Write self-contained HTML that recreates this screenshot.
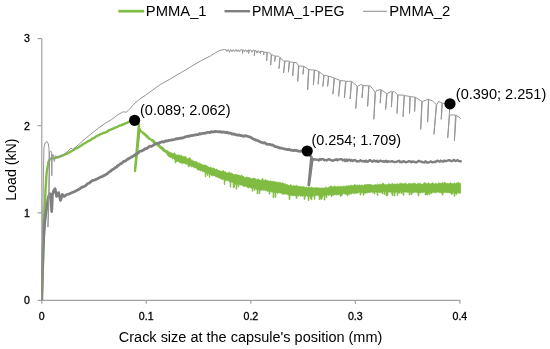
<!DOCTYPE html>
<html><head><meta charset="utf-8"><title>Load vs crack size</title>
<style>html,body{margin:0;padding:0;background:#fff;width:550px;height:349px;overflow:hidden}svg{display:block}</style>
</head><body>
<svg width="550" height="349" viewBox="0 0 550 349">
<rect width="550" height="349" fill="#fff"/>
<g fill="none" stroke="#a2a2a2" stroke-width="1.2">
<path d="M41.8 38.4V300.3H460.3"/>
<path d="M37.6 38.6H41.8M37.6 125.7H41.8M37.6 212.9H41.8"/>
<path d="M37.6 300.3H41.8V303.8"/>
<path d="M146.3 300.3V303.8M250.8 300.3V303.8M355.4 300.3V303.8M459.9 300.3V303.8"/>
</g>
<g font-family="'Liberation Sans', Arial, sans-serif" font-size="10.6" fill="#000" stroke="#000" stroke-width="0.3">
<text x="30" y="42.2" text-anchor="end">3</text>
<text x="30" y="129.6" text-anchor="end">2</text>
<text x="30" y="216.8" text-anchor="end">1</text>
<text x="30" y="304" text-anchor="end">0</text>
<text x="41.7" y="320" text-anchor="middle">0</text>
<text x="146.2" y="320" text-anchor="middle">0.1</text>
<text x="250.9" y="320" text-anchor="middle">0.2</text>
<text x="355.3" y="320" text-anchor="middle">0.3</text>
<text x="459.9" y="320" text-anchor="middle">0.4</text>
</g>
<defs><clipPath id="pa"><rect x="41.3" y="30" width="425" height="270.4"/></clipPath></defs>
<g clip-path="url(#pa)">
<polyline points="41.8,300.3 42.8,270.0 43.6,245.0 44.0,230.0 44.3,215.0 45.5,190.0 46.6,173.0 48.3,162.6 50.1,158.6 53.0,158.4 55.2,158.0 60.0,156.5 61.4,156.0 62.8,155.5 64.2,154.9 65.6,154.2 67.0,153.7 68.4,152.8 69.8,152.1 71.2,151.3 72.6,150.5 74.0,149.9 75.4,148.7 76.8,148.1 78.2,147.5 79.6,146.6 81.0,145.7 82.4,144.6 83.8,143.8 85.2,143.0 86.6,142.3 88.0,141.3 89.4,140.6 90.8,140.0 92.2,138.6 93.6,138.1 95.0,137.4 96.4,136.3 97.8,135.5 99.2,135.1 100.6,133.9 102.0,133.7 103.4,132.9 104.8,132.7 106.2,132.2 107.6,131.2 109.0,130.2 110.4,129.8 111.8,129.1 113.2,128.6 114.6,127.8 116.0,127.3 117.4,126.8 118.8,126.0 120.2,125.4 121.6,125.2 123.0,124.2 124.4,124.0 125.8,123.1 127.2,122.8 128.3,122.1 134.6,120.2 139.0,124.0 135.0,171.0 139.5,129.0 140.5,131.0" fill="none" stroke="#7fbc41" stroke-width="2.4" stroke-linejoin="round" stroke-linecap="round"/>
<polygon points="140.5,129.7 141.5,130.9 142.5,131.6 143.5,131.9 144.5,132.7 145.5,133.6 146.5,134.7 147.5,135.2 148.5,136.5 149.5,137.2 150.5,138.4 151.5,139.1 152.5,139.1 153.5,140.1 154.5,140.7 155.5,142.0 156.5,142.6 157.5,142.8 158.5,144.2 159.5,144.5 160.5,145.5 161.5,146.7 162.5,146.9 163.5,148.1 164.5,149.0 165.5,149.9 166.5,150.4 167.5,150.4 168.5,151.6 169.5,152.2 170.5,152.3 171.5,152.9 172.5,153.6 173.5,153.7 174.5,152.8 175.5,154.2 176.5,155.1 177.5,155.0 178.5,155.1 179.5,154.9 180.5,156.0 181.5,155.1 182.5,157.1 183.5,156.5 184.5,156.8 185.5,156.2 186.5,158.4 187.5,158.5 188.5,158.9 189.5,157.6 190.5,158.6 191.5,160.5 192.5,160.2 193.5,161.0 194.5,161.5 195.5,161.7 196.5,161.4 197.5,162.5 198.5,163.2 199.5,162.9 200.5,164.0 201.5,164.3 202.5,164.7 203.5,165.1 204.5,165.1 205.5,165.2 206.5,165.6 207.5,166.2 208.5,166.9 209.5,167.5 210.5,167.3 211.5,167.6 212.5,168.4 213.5,167.8 214.5,168.8 215.5,169.5 216.5,168.9 217.5,169.9 218.5,170.5 219.5,170.8 220.5,170.9 221.5,171.4 222.5,170.9 223.5,170.5 224.5,172.2 225.5,171.8 226.5,172.9 227.5,173.0 228.5,172.8 229.5,171.9 230.5,173.6 231.5,172.9 232.5,173.7 233.5,174.5 234.5,174.7 235.5,174.3 236.5,174.5 237.5,175.0 238.5,175.1 239.5,175.3 240.5,176.2 241.5,174.8 242.5,176.5 243.5,176.3 244.5,177.3 245.5,177.7 246.5,177.0 247.5,177.3 248.5,177.5 249.5,177.9 250.5,178.0 251.5,178.9 252.5,178.4 253.5,178.0 254.5,178.5 255.5,178.8 256.5,179.4 257.5,179.2 258.5,179.1 259.5,179.9 260.5,180.2 261.5,180.4 262.5,178.3 263.5,180.4 264.5,180.4 265.5,179.4 266.5,180.5 267.5,180.6 268.5,180.9 269.5,181.3 270.5,181.0 271.5,181.3 272.5,181.4 273.5,181.4 274.5,181.4 275.5,182.0 276.5,182.3 277.5,182.0 278.5,182.7 279.5,182.2 280.5,182.6 281.5,183.3 282.5,182.8 283.5,183.3 284.5,183.9 285.5,183.7 286.5,184.9 287.5,184.5 288.5,185.4 289.5,185.5 290.5,184.5 291.5,185.4 292.5,186.1 293.5,185.8 294.5,185.7 295.5,185.9 296.5,185.2 297.5,186.2 298.5,186.4 299.5,186.5 300.5,186.4 301.5,186.6 302.5,186.9 303.5,186.5 304.5,187.1 305.5,187.5 306.5,186.9 307.5,187.8 308.5,187.4 309.5,187.2 310.5,187.7 311.5,186.9 312.5,187.7 313.5,187.8 314.5,188.1 315.5,187.8 316.5,187.6 317.5,188.0 318.5,187.8 319.5,188.1 320.5,188.2 321.5,187.9 322.5,188.2 323.5,188.1 324.5,188.1 325.5,187.2 326.5,187.4 327.5,188.0 328.5,187.3 329.5,186.9 330.5,186.1 331.5,186.1 332.5,186.9 333.5,186.8 334.5,185.9 335.5,186.6 336.5,186.8 337.5,186.5 338.5,186.3 339.5,186.8 340.5,186.4 341.5,186.2 342.5,186.9 343.5,185.9 344.5,186.2 345.5,186.4 346.5,185.8 347.5,186.0 348.5,185.7 349.5,185.9 350.5,185.2 351.5,185.4 352.5,185.4 353.5,186.1 354.5,184.3 355.5,185.0 356.5,185.3 357.5,185.0 358.5,185.2 359.5,184.9 360.5,185.4 361.5,185.0 362.5,185.2 363.5,185.6 364.5,184.6 365.5,184.9 366.5,184.5 367.5,184.5 368.5,184.6 369.5,184.5 370.5,184.5 371.5,184.8 372.5,185.2 373.5,185.0 374.5,185.0 375.5,184.5 376.5,185.0 377.5,184.1 378.5,184.7 379.5,184.4 380.5,184.0 381.5,184.7 382.5,183.5 383.5,183.2 384.5,184.7 385.5,184.8 386.5,184.6 387.5,184.8 388.5,183.9 389.5,183.7 390.5,184.7 391.5,184.0 392.5,183.3 393.5,184.3 394.5,184.2 395.5,184.0 396.5,184.2 397.5,183.7 398.5,184.2 399.5,183.8 400.5,183.2 401.5,183.3 402.5,183.7 403.5,184.1 404.5,183.6 405.5,183.1 406.5,184.0 407.5,184.4 408.5,183.5 409.5,183.5 410.5,183.5 411.5,184.0 412.5,183.4 413.5,183.4 414.5,183.4 415.5,183.4 416.5,184.2 417.5,183.8 418.5,183.2 419.5,183.5 420.5,183.6 421.5,184.2 422.5,184.3 423.5,184.1 424.5,182.2 425.5,183.4 426.5,183.4 427.5,183.9 428.5,182.7 429.5,183.6 430.5,184.0 431.5,183.8 432.5,182.6 433.5,183.4 434.5,184.1 435.5,183.2 436.5,183.5 437.5,184.0 438.5,183.1 439.5,183.1 440.5,183.2 441.5,183.3 442.5,182.4 443.5,183.7 444.5,182.0 445.5,183.0 446.5,183.5 447.5,183.4 448.5,183.6 449.5,183.8 450.5,182.4 451.5,183.8 452.5,183.7 453.5,183.4 454.5,183.0 455.5,183.8 456.5,183.0 457.5,182.9 458.5,182.2 459.5,183.2 460.5,183.4 460.5,193.2 459.5,193.2 458.5,193.0 457.5,192.7 456.9,193.0 456.9,194.6 456.1,194.6 456.1,193.0 455.5,193.2 454.9,193.1 454.9,196.2 454.1,196.2 454.1,193.1 453.5,192.3 452.9,192.3 452.9,194.0 452.1,194.0 452.1,192.3 451.9,192.4 451.9,194.2 451.1,194.2 451.1,192.4 450.5,193.1 449.5,192.9 448.5,192.5 447.5,192.7 446.5,192.5 445.5,192.3 444.5,192.5 443.5,193.0 442.9,192.6 442.9,195.1 442.1,195.1 442.1,192.6 441.5,193.2 440.5,192.6 439.5,192.6 438.5,192.2 437.5,192.0 436.5,192.8 435.5,192.4 434.5,192.5 433.5,192.8 432.5,192.2 431.9,192.2 431.9,193.6 431.1,193.6 431.1,192.2 430.5,192.9 429.9,193.0 429.9,194.6 429.1,194.6 429.1,193.0 428.5,192.9 427.9,192.7 427.9,195.1 427.1,195.1 427.1,192.7 426.9,191.8 426.9,194.4 426.1,194.4 426.1,191.8 425.9,191.8 425.9,194.9 425.1,194.9 425.1,191.8 424.5,192.0 423.5,192.3 422.5,192.4 421.5,192.6 420.5,192.9 419.5,192.7 418.9,193.0 418.9,195.9 418.1,195.9 418.1,193.0 417.5,192.7 416.5,192.6 415.5,192.1 414.5,192.3 413.5,192.8 412.5,192.8 411.9,192.7 411.9,194.6 411.1,194.6 411.1,192.7 410.5,191.9 409.9,192.7 409.9,195.0 409.1,195.0 409.1,192.7 408.5,192.3 407.5,192.6 406.5,192.1 405.5,192.2 404.5,191.8 403.9,192.2 403.9,195.3 403.1,195.3 403.1,192.2 402.5,192.4 401.9,191.6 401.9,193.5 401.1,193.5 401.1,191.6 400.5,192.3 399.9,191.6 399.9,193.1 399.1,193.1 399.1,191.6 398.5,192.9 397.9,192.6 397.9,195.4 397.1,195.4 397.1,192.6 396.5,192.1 395.5,192.7 394.9,192.8 394.9,196.0 394.1,196.0 394.1,192.8 393.5,192.1 392.9,192.8 392.9,195.6 392.1,195.6 392.1,192.8 391.9,191.7 391.9,193.2 391.1,193.2 391.1,191.7 390.5,191.9 389.5,192.0 388.5,192.1 387.9,192.9 387.9,195.6 387.1,195.6 387.1,192.9 386.9,192.7 386.9,195.9 386.1,195.9 386.1,192.7 385.5,191.8 384.9,192.3 384.9,194.6 384.1,194.6 384.1,192.3 383.5,191.7 382.9,191.8 382.9,193.9 382.1,193.9 382.1,191.8 381.5,192.7 380.5,192.5 379.5,192.6 378.5,192.1 377.9,192.9 377.9,195.3 377.1,195.3 377.1,192.9 376.5,191.9 375.5,192.0 374.9,192.1 374.9,194.1 374.1,194.1 374.1,192.1 373.5,192.2 372.5,192.7 371.5,192.0 370.5,192.2 369.5,192.7 368.5,192.4 367.5,192.9 366.5,192.8 365.5,193.3 364.5,193.3 363.9,192.7 363.9,195.3 363.1,195.3 363.1,192.7 362.5,192.7 361.5,192.7 360.9,192.5 360.9,195.1 360.1,195.1 360.1,192.5 359.5,192.6 358.5,192.8 357.5,193.0 356.5,193.4 355.5,193.0 354.5,193.8 353.5,193.3 352.5,193.1 351.5,194.0 350.5,193.8 349.5,194.3 348.5,194.3 347.9,194.1 347.9,195.8 347.1,195.8 347.1,194.1 346.5,194.3 345.5,194.3 344.5,193.7 343.5,193.6 342.5,194.6 341.9,193.6 341.9,195.9 341.1,195.9 341.1,193.6 340.9,194.6 340.9,196.2 340.1,196.2 340.1,194.6 339.5,194.5 338.5,194.8 337.5,194.4 336.5,195.1 335.5,194.8 334.5,194.5 333.5,195.4 332.5,195.2 331.9,195.3 331.9,196.6 331.1,196.6 331.1,195.3 330.5,194.8 329.5,195.1 328.5,195.6 327.5,194.8 326.9,194.9 326.9,197.7 326.1,197.7 326.1,194.9 325.5,195.6 324.9,195.3 324.9,200.1 324.1,200.1 324.1,195.3 323.5,196.0 322.9,195.1 322.9,197.3 322.1,197.3 322.1,195.1 321.9,196.2 321.9,199.4 321.1,199.4 321.1,196.2 320.9,195.7 320.9,198.4 320.1,198.4 320.1,195.7 319.9,195.4 319.9,199.7 319.1,199.7 319.1,195.4 318.5,195.4 317.5,195.5 316.5,195.3 315.5,195.7 314.9,195.8 314.9,199.3 314.1,199.3 314.1,195.8 313.5,195.7 312.5,196.7 311.9,195.9 311.9,199.7 311.1,199.7 311.1,195.9 310.9,196.3 310.9,198.5 310.1,198.5 310.1,196.3 309.5,196.3 308.9,196.2 308.9,200.5 308.1,200.5 308.1,196.2 307.5,196.4 306.5,195.7 305.5,196.6 304.9,196.2 304.9,199.4 304.1,199.4 304.1,196.2 303.5,195.5 302.5,196.7 301.5,195.8 300.5,196.2 299.5,195.5 298.5,195.9 297.5,196.0 296.9,195.4 296.9,198.4 296.1,198.4 296.1,195.4 295.5,196.2 294.5,195.2 293.5,195.6 292.5,196.0 291.5,195.3 290.5,195.4 289.9,195.4 289.9,199.6 289.1,199.6 289.1,195.4 288.5,195.1 287.5,194.6 286.5,194.3 285.5,193.9 284.5,194.1 283.5,194.0 282.5,194.5 281.5,193.1 280.5,193.1 279.5,192.8 278.5,192.9 277.5,193.4 276.5,192.4 275.9,192.4 275.9,197.2 275.1,197.2 275.1,192.4 274.5,192.4 273.9,192.8 273.9,197.7 273.1,197.7 273.1,192.8 272.5,192.1 271.5,192.1 270.5,191.4 269.9,191.7 269.9,194.1 269.1,194.1 269.1,191.7 268.5,191.3 267.5,191.4 266.5,190.4 265.5,190.8 264.5,189.9 263.5,190.5 262.5,189.7 261.5,190.2 260.5,190.2 259.9,190.0 259.9,193.6 259.1,193.6 259.1,190.0 258.5,189.9 257.9,189.9 257.9,194.0 257.1,194.0 257.1,189.9 256.5,189.3 255.5,189.0 254.8,188.5 254.8,190.6 254.2,190.6 254.2,188.5 253.5,188.1 252.8,188.1 252.8,191.3 252.2,191.3 252.2,188.1 251.5,188.2 250.5,187.8 249.5,187.4 248.5,187.9 247.5,187.5 246.5,186.8 245.5,186.4 244.5,186.2 243.5,186.5 242.5,185.4 241.5,184.9 240.5,185.0 239.5,184.6 238.8,184.7 238.8,187.0 238.2,187.0 238.2,184.7 237.5,184.5 236.8,184.6 236.8,189.2 236.2,189.2 236.2,184.6 235.5,184.4 234.8,183.0 234.8,187.1 234.2,187.1 234.2,183.0 233.8,183.0 233.8,187.7 233.2,187.7 233.2,183.0 232.5,182.5 231.5,182.1 230.8,182.2 230.8,187.2 230.2,187.2 230.2,182.2 229.5,181.9 228.5,181.0 227.5,180.6 226.5,180.5 225.5,180.8 224.8,180.4 224.8,184.5 224.2,184.5 224.2,180.4 223.5,178.9 222.5,179.7 221.5,179.2 220.5,178.4 219.5,178.0 218.5,177.9 217.5,176.9 216.5,176.9 215.5,176.7 214.5,175.4 213.5,175.7 212.5,175.8 211.5,175.4 210.5,174.6 209.8,174.5 209.8,177.3 209.2,177.3 209.2,174.5 208.5,173.7 207.8,173.4 207.8,175.4 207.2,175.4 207.2,173.4 206.5,173.4 205.8,172.1 205.8,176.8 205.2,176.8 205.2,172.1 204.5,172.1 203.5,171.6 202.5,171.7 201.5,170.5 200.5,171.1 199.5,169.8 198.5,170.2 197.5,169.7 196.5,168.0 195.5,167.7 194.5,168.0 193.5,166.9 192.5,166.4 191.5,166.9 190.5,165.6 189.5,166.2 188.8,165.4 188.8,167.0 188.2,167.0 188.2,165.4 187.5,164.6 186.5,164.2 185.5,163.8 184.5,163.6 183.5,163.1 182.5,163.8 181.5,163.1 180.5,162.7 179.5,162.4 178.5,161.5 177.5,161.4 176.5,161.4 175.8,160.9 175.8,163.0 175.2,163.0 175.2,160.9 174.5,159.2 173.5,158.5 172.5,158.9 171.5,157.3 170.5,157.7 169.5,156.7 168.5,156.4 167.5,155.2 166.5,153.6 165.5,152.6 164.5,151.8 163.5,151.7 162.5,150.5 161.5,149.8 160.5,148.4 159.5,148.0 158.5,147.0 157.5,145.9 156.5,144.9 155.5,144.5 154.5,144.0 153.5,143.5 152.5,141.8 151.5,141.2 150.5,140.0 149.5,139.7 148.5,139.6 147.5,137.8 146.5,137.8 145.5,136.0 144.5,135.6 143.5,134.8 142.5,133.8 141.5,132.5 140.5,131.8" fill="#7fbc41" stroke="#7fbc41" stroke-width="0.8" stroke-linejoin="round"/>
<polyline points="41.8,300.3 42.3,275.0 43.0,250.0 43.8,235.0 45.0,220.0 46.9,206.5 48.0,199.0 48.9,195.5 49.9,193.8 51.0,195.5 51.7,211.5 52.4,195.0 53.5,191.0 55.1,188.7 56.6,196.4 58.6,192.6 60.5,200.3 62.4,194.5 64.4,196.4 66.9,194.5 69.5,193.8 74.7,191.5 80.0,188.7 81.3,187.7 82.6,186.9 83.9,186.6 85.2,186.0 86.5,184.7 87.8,183.5 89.1,183.2 90.4,182.0 91.7,181.1 93.0,180.3 94.3,180.2 95.6,179.6 96.9,178.9 98.2,178.2 99.5,177.7 100.8,176.8 102.1,176.8 103.4,175.6 104.7,175.3 106.0,174.6 107.3,173.7 108.6,172.5 109.9,171.5 111.2,170.7 112.5,169.4 113.8,169.0 115.1,167.6 116.4,167.2 117.7,165.8 119.0,165.0 120.3,164.0 121.6,163.3 122.9,162.2 124.2,161.2 125.5,161.0 126.8,159.8 128.1,159.0 129.4,158.2 130.7,157.5 132.0,156.7 133.3,156.0 134.6,155.2 135.9,154.0 137.2,153.7 138.5,152.7 139.8,151.2 141.1,151.2 142.4,150.6 143.7,149.9 145.0,148.7 146.3,148.7 147.6,147.9 148.9,146.7 150.2,146.1 151.5,146.4 152.8,145.6 154.1,144.7 155.4,144.0 156.7,143.5 158.0,143.1 159.3,143.0 160.6,142.2 161.9,141.7 163.2,142.1 164.5,141.6 165.8,140.8 167.1,141.1 168.4,140.5 169.7,140.3 171.0,140.0 172.3,139.9 173.6,139.6 174.9,139.4 176.2,138.6 177.5,138.8 178.8,138.4 180.1,138.4 181.4,137.8 182.7,138.0 184.0,137.4 185.3,136.8 186.6,136.5 187.9,136.2 189.2,136.3 190.5,135.6 191.8,135.7 193.1,135.2 194.4,135.2 195.7,134.9 197.0,134.6 198.3,134.6 199.6,133.6 200.9,134.0 202.2,133.4 203.5,133.3 204.8,133.1 206.1,133.0 207.4,132.4 208.7,132.3 210.0,132.6 211.3,131.6 212.6,132.0 213.9,131.9 215.2,131.3 216.5,131.7 217.8,131.7 219.1,132.0 220.4,131.6 221.7,132.3 223.0,132.0 224.3,132.1 225.6,132.7 226.9,132.2 228.2,133.0 229.5,133.2 230.8,133.2 232.1,134.0 233.4,133.9 234.7,134.3 236.0,134.7 237.3,135.2 238.6,134.9 239.9,135.4 241.2,135.5 242.5,135.9 243.8,136.3 245.1,135.7 246.4,136.1 247.7,136.2 249.0,136.8 250.3,137.1 251.6,137.9 252.9,138.8 254.2,139.2 255.5,140.0 256.8,140.2 258.1,140.8 259.4,141.4 260.7,142.1 262.0,142.5 263.3,143.0 264.6,142.7 265.9,143.7 267.2,144.3 268.5,144.3 269.8,144.3 271.1,144.9 272.4,145.0 273.7,145.6 275.0,146.6 276.3,146.7 277.6,147.2 278.9,147.6 280.2,148.1 281.5,148.1 282.8,148.5 284.1,148.8 285.4,149.2 286.7,149.3 288.0,149.7 289.3,149.5 290.6,150.2 291.9,150.2 293.2,150.7 294.5,150.2 295.8,150.5 297.1,150.6 298.4,151.2 299.7,151.4 301.0,151.1 302.3,150.9 303.6,151.3 304.9,151.3 306.2,151.1 307.2,151.0 311.5,157.3 308.8,185.0 312.2,159.5" fill="none" stroke="#7f7f7f" stroke-width="2.8" stroke-linejoin="round" stroke-linecap="round"/>
<polyline points="312.2,159.6 312.2,159.2 313.3,159.3 314.4,159.5 315.5,159.4 316.6,159.6 317.7,159.9 318.8,160.4 319.9,159.0 321.0,159.8 322.1,159.0 323.2,159.1 324.3,160.3 325.4,159.9 326.5,160.5 327.6,159.7 328.7,159.1 329.8,159.7 330.9,160.0 332.0,160.6 333.1,160.7 334.2,159.9 335.3,159.8 336.4,159.3 337.5,160.2 338.6,159.5 339.7,159.4 340.8,159.3 341.9,159.3 343.0,160.4 344.1,159.6 345.2,161.0 346.3,159.6 347.4,160.9 348.5,159.8 349.6,159.7 350.7,160.8 351.8,160.1 352.9,161.0 354.0,160.1 355.1,160.0 356.2,161.2 357.3,161.1 358.4,161.4 359.5,161.2 360.6,160.2 361.7,161.1 362.8,161.3 363.9,160.9 365.0,161.7 366.1,160.6 367.2,161.8 368.3,161.4 369.4,160.3 370.5,160.3 371.6,161.4 372.7,161.7 373.8,160.5 374.9,160.9 376.0,161.6 377.1,160.7 378.2,161.8 379.3,161.3 380.4,160.6 381.5,161.1 382.6,161.5 383.7,161.3 384.8,161.7 385.9,160.8 387.0,161.9 388.1,161.2 389.2,161.6 390.3,161.6 391.4,161.3 392.5,161.2 393.6,161.9 394.7,162.2 395.8,161.9 396.9,161.6 398.0,161.1 399.1,160.8 400.2,162.2 401.3,161.8 402.4,162.0 403.5,161.2 404.6,161.6 405.7,162.2 406.8,162.0 407.9,161.7 409.0,161.2 410.1,161.4 411.2,162.2 412.3,161.4 413.4,161.9 414.5,161.8 415.6,162.3 416.7,162.2 417.8,161.4 418.9,160.9 420.0,161.4 421.1,161.7 422.2,162.0 423.3,162.4 424.4,162.5 425.5,161.2 426.6,162.5 427.7,162.5 428.8,162.5 429.9,162.0 431.0,161.4 432.1,162.3 433.2,162.1 434.3,161.8 435.4,162.1 436.5,161.1 437.6,160.7 438.7,161.3 439.8,161.6 440.9,160.6 442.0,161.4 443.1,161.7 444.2,160.5 445.3,161.1 446.4,161.1 447.5,160.7 448.6,160.3 449.7,160.3 450.8,161.1 451.9,161.1 453.0,160.5 454.1,159.9 455.2,161.0 456.3,160.9 457.4,160.1 458.5,160.7 459.6,161.3 460.7,161.3" fill="none" stroke="#7f7f7f" stroke-width="2.4" stroke-linejoin="round" stroke-linecap="round"/>
<polyline points="41.8,300.3 42.2,260.0 42.7,220.0 43.2,190.0 43.6,166.0 44.0,147.2 45.3,142.5 47.0,141.6 48.3,143.7 49.0,148.9 49.2,166.0 48.6,200.0 47.9,227.0 48.9,205.0 49.5,170.0 49.6,152.0 50.7,151.0 51.6,152.3 51.8,175.8 52.1,160.0 52.6,154.5 53.6,155.0 54.3,161.5 55.2,155.8 57.8,157.0 62.0,155.4 66.4,152.4 70.4,148.8 71.0,148.2 72.9,149.5 79.3,144.0 85.8,138.2 92.2,133.0 98.7,127.9 105.1,123.4 111.6,119.5 116.7,115.6 119.0,114.1 123.0,111.9 126.5,112.1 130.0,108.6 135.0,103.0 140.0,99.0 142.0,97.5 145.1,95.5 150.1,91.9 155.1,88.3 160.1,84.7 165.0,81.9 170.2,79.0 180.2,73.1 190.2,67.1 200.3,61.1 210.3,56.0 214.5,53.4 218.7,50.9 221.0,50.2 224.2,49.6 226.0,49.6 227.0,51.5 228.0,49.7 228.5,49.7 229.5,52.3 230.5,49.7 231.0,49.7 232.0,51.8 233.0,49.7 233.5,49.8 234.5,51.6 235.5,49.8 236.4,49.8 236.0,49.8 237.0,51.8 238.0,49.8 238.5,49.8 239.5,51.9 240.5,49.8 242.7,49.8 242.5,53.5 243.1,50.0 243.5,49.8 244.5,51.6 245.5,49.8 246.0,49.9 247.0,52.1 248.0,50.0 248.8,50.0 248.6,53.5 249.2,50.2 251.0,50.1 252.0,52.3 253.0,50.2 254.6,50.4 254.3,55.8 255.0,50.6 256.0,50.5 257.0,53.0 258.0,50.7 258.5,50.8 259.5,52.9 260.5,51.0 260.7,51.0 260.5,53.5 261.1,51.2 263.8,51.9 263.6,55.0 264.2,52.1 265.0,52.2 266.9,52.3 266.7,60.8 267.3,52.5 268.6,52.4 271.2,54.3 270.7,65.1 271.6,54.5 273.6,55.7 275.1,55.9 274.7,61.5 275.5,56.1 278.6,56.2 279.8,57.5 279.0,68.6 280.2,57.7 283.6,60.8 284.6,60.8 283.6,72.9 285.0,61.0 288.6,61.0 289.2,61.3 288.4,72.2 289.6,61.5 291.5,62.2 293.5,62.3 292.7,75.8 293.9,62.5 296.5,62.5 298.5,65.8 297.7,81.5 298.9,66.0 303.5,66.2 303.0,74.4 303.9,66.4 308.0,69.1 308.5,69.3 307.6,90.1 308.9,69.5 312.3,70.1 314.2,69.9 313.4,85.1 314.6,70.1 315.0,69.9 318.8,71.6 318.2,84.2 319.2,71.8 323.7,75.0 322.9,86.4 324.1,75.2 328.4,76.0 327.6,86.4 328.8,76.2 334.1,78.0 332.9,94.2 334.5,78.2 339.9,80.3 338.6,96.4 340.3,80.5 345.6,81.1 344.4,97.8 346.0,81.3 351.3,81.3 350.1,99.0 351.7,81.5 357.1,86.1 355.8,108.6 357.5,86.3 360.8,84.6 362.8,85.2 362.0,97.8 363.2,85.4 365.0,85.7 368.7,85.8 367.6,106.4 369.1,86.0 370.2,85.8 375.1,92.2 373.8,119.3 375.5,92.4 376.6,90.3 380.9,89.7 380.2,103.2 381.3,89.9 386.7,93.5 385.6,109.6 387.1,93.7 391.4,91.3 392.1,91.5 391.4,107.1 392.5,91.7 394.6,91.9 397.7,94.8 397.0,113.5 398.1,95.0 403.7,95.2 404.1,95.3 403.0,116.7 404.5,95.5 409.9,96.5 409.5,113.5 410.3,96.7 415.0,97.1 414.6,111.6 415.4,97.3 421.8,101.3 420.7,129.4 422.2,101.5 428.4,99.3 427.6,122.2 428.8,99.5 432.2,100.7 436.3,104.5 433.9,134.4 436.7,104.7 438.6,101.4 442.0,102.9 441.2,119.4 442.4,103.1 445.0,103.5 450.0,104.0 447.7,138.0 449.6,115.0 455.5,115.0 454.4,140.8 456.2,115.2 460.8,118.6" fill="none" stroke="#959595" stroke-width="1" stroke-linejoin="round"/>
</g>
<g fill="#000">
<circle cx="134.6" cy="120.3" r="5.6"/>
<circle cx="307.2" cy="151" r="5.6"/>
<circle cx="450" cy="103.8" r="5.6"/>
</g>
<g font-family="'Liberation Sans', Arial, sans-serif" font-size="13.8" fill="#000">
<text x="140" y="114.7" textLength="90.5" lengthAdjust="spacingAndGlyphs">(0.089; 2.062)</text>
<text x="311.4" y="145.4" textLength="89.8" lengthAdjust="spacingAndGlyphs">(0.254; 1.709)</text>
<text x="455.8" y="99.1" textLength="90.5" lengthAdjust="spacingAndGlyphs">(0.390; 2.251)</text>
</g>
<g font-family="'Liberation Sans', Arial, sans-serif" font-size="13.8" fill="#000">
<text x="118.8" y="341.8" textLength="263.5" lengthAdjust="spacingAndGlyphs">Crack size at the capsule's position (mm)</text>
<text transform="translate(16.1 200.7) rotate(-90)" x="0" y="0" textLength="62.2" lengthAdjust="spacingAndGlyphs">Load (kN)</text>
</g>
<line x1="118.3" y1="11.2" x2="144.2" y2="11.2" stroke="#7fbc41" stroke-width="2.7"/>
<line x1="224.5" y1="11.2" x2="250" y2="11.2" stroke="#7f7f7f" stroke-width="2.4"/>
<line x1="363" y1="11.3" x2="387" y2="11.3" stroke="#959595" stroke-width="1.1"/>
<g font-family="'Liberation Sans', Arial, sans-serif" font-size="13.8" fill="#000">
<text x="145.8" y="15.8" textLength="60.8" lengthAdjust="spacingAndGlyphs">PMMA_1</text>
<text x="251.9" y="15.8" textLength="92.5" lengthAdjust="spacingAndGlyphs">PMMA_1-PEG</text>
<text x="389.2" y="15.8" textLength="61" lengthAdjust="spacingAndGlyphs">PMMA_2</text>
</g>
</svg>
</body></html>
